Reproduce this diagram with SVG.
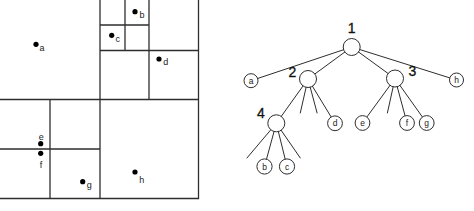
<svg xmlns="http://www.w3.org/2000/svg" width="474" height="211" viewBox="0 0 474 211">
<style>
.grid{stroke:#2e2e2e;stroke-width:1.3;fill:none}
.dot{fill:#000}
.pl{font-family:"Liberation Sans",Arial,sans-serif;font-size:9px;fill:#222;text-anchor:middle}
.edge{stroke:#2e2e2e;stroke-width:1;fill:none}
.nd{fill:#fff;stroke:#2e2e2e;stroke-width:1}
.num{font-family:"Liberation Sans",Arial,sans-serif;font-size:14px;fill:#111;stroke:#111;stroke-width:0.3;text-anchor:middle}
.lf{font-family:"Liberation Sans",Arial,sans-serif;font-size:8.5px;fill:#222;text-anchor:middle}
</style>
<rect width="474" height="211" fill="#fff"/>
<g id="quadtree">
<path class="grid" d="M198.5,0 V198.5 H0 M100,0 V198.5 M0,99.5 H198.5 M50,99.5 V198.5 M0,149 H100 M149,0 V99.5 M100,50.5 H198.5 M125,0 V50.5 M100,25 H149"/>
</g>
<g id="points">
<circle class="dot" cx="36" cy="44.3" r="2.6"/><text class="pl" x="42" y="50.7">a</text>
<circle class="dot" cx="135" cy="11.7" r="2.6"/><text class="pl" x="142" y="18">b</text>
<circle class="dot" cx="111.7" cy="35.3" r="2.6"/><text class="pl" x="117.7" y="42">c</text>
<circle class="dot" cx="159" cy="59" r="2.6"/><text class="pl" x="165.7" y="65">d</text>
<circle class="dot" cx="40.7" cy="143.7" r="2.6"/><text class="pl" x="41.3" y="139.7">e</text>
<circle class="dot" cx="40.7" cy="153.3" r="2.6"/><text class="pl" x="41" y="168">f</text>
<circle class="dot" cx="82.7" cy="181.7" r="2.6"/><text class="pl" x="89.3" y="188">g</text>
<circle class="dot" cx="135" cy="172" r="2.6"/><text class="pl" x="141.7" y="183">h</text>
</g>
<g id="connectors">
<line class="edge" x1="351.7" y1="47" x2="251" y2="80.7"/>
<line class="edge" x1="351.7" y1="47" x2="456.5" y2="80"/>
<line class="edge" x1="351.7" y1="47" x2="308" y2="79"/>
<line class="edge" x1="351.7" y1="47" x2="395" y2="78.5"/>
<line class="edge" x1="308" y1="79" x2="276.3" y2="123.3"/>
<line class="edge" x1="308" y1="79" x2="300.2" y2="113.3"/>
<line class="edge" x1="308" y1="79" x2="317.2" y2="113.3"/>
<line class="edge" x1="308" y1="79" x2="335" y2="123.3"/>
<line class="edge" x1="395" y1="78.5" x2="362.5" y2="123"/>
<line class="edge" x1="395" y1="78.5" x2="387.3" y2="113.3"/>
<line class="edge" x1="395" y1="78.5" x2="407" y2="123"/>
<line class="edge" x1="395" y1="78.5" x2="426.7" y2="123"/>
<line class="edge" x1="276.3" y1="123.3" x2="246.7" y2="158.3"/>
<line class="edge" x1="276.3" y1="123.3" x2="264.5" y2="166.5"/>
<line class="edge" x1="276.3" y1="123.3" x2="287" y2="166.5"/>
<line class="edge" x1="276.3" y1="123.3" x2="300.5" y2="158.3"/>
</g>
<g id="n1"><circle class="nd" cx="351.7" cy="47" r="8.5"/><text class="num" x="351.7" y="33">1</text></g>
<g id="n2"><circle class="nd" cx="308" cy="79" r="8.5"/><text class="num" x="292.5" y="76.5">2</text></g>
<g id="n3"><circle class="nd" cx="395" cy="78.5" r="8.5"/><text class="num" x="412.5" y="76">3</text></g>
<g id="n4"><circle class="nd" cx="276.3" cy="123.3" r="8.5"/><text class="num" x="261" y="117.5">4</text></g>
<g id="la"><circle class="nd" cx="251" cy="80.7" r="7"/><text class="lf" x="251" y="83.7">a</text></g>
<g id="lh"><circle class="nd" cx="456.5" cy="80" r="7"/><text class="lf" x="456.5" y="83">h</text></g>
<g id="ld"><circle class="nd" cx="335" cy="123.3" r="7.4"/><text class="lf" x="335" y="126.3">d</text></g>
<g id="le"><circle class="nd" cx="362.5" cy="123" r="7.4"/><text class="lf" x="362.5" y="126">e</text></g>
<g id="lf"><circle class="nd" cx="407" cy="123" r="7.4"/><text class="lf" x="407" y="126">f</text></g>
<g id="lg"><circle class="nd" cx="426.7" cy="123" r="7.4"/><text class="lf" x="426.7" y="126">g</text></g>
<g id="lb"><circle class="nd" cx="264.5" cy="166.5" r="7.6"/><text class="lf" x="264.5" y="170">b</text></g>
<g id="lc"><circle class="nd" cx="287" cy="166.5" r="7.6"/><text class="lf" x="287" y="170">c</text></g>
</svg>
